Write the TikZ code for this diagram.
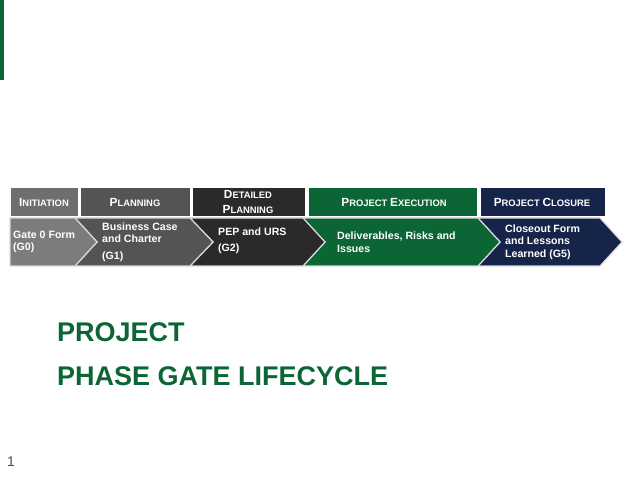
\documentclass[tikz,border=0pt]{standalone}
\usepackage{fontspec}
\setmainfont{Liberation Sans}
\definecolor{pgreen}{HTML}{0B6535}
\definecolor{pnavy}{HTML}{17244A}
\definecolor{gA}{HTML}{6E6E6E}
\definecolor{gB}{HTML}{545454}
\definecolor{gC}{HTML}{2A2A2A}
\definecolor{cA}{HTML}{7C7C7C}
\newcommand{\mysc}[2]{{\fontsize{11.8}{13}\selectfont #1}{\fontsize{9.4}{13}\selectfont #2}}
\tikzset{
 hdr/.style={fill=#1, draw=white, line width=0.8pt},
 chev/.style={fill=#1, draw=white!85!black, line width=1.2pt},
 htxt/.style={text=white, font=\bfseries, align=center, inner sep=0pt},
 ctxt/.style={text=white, font=\bfseries\fontsize{10.6}{12.5}\selectfont, align=left, anchor=west, inner sep=0pt}
}
\begin{document}
\begin{tikzpicture}[x=1pt,y=-1pt]
\useasboundingbox (0,0) rectangle (638,478);
\fill[pgreen] (0,0) rectangle (4,80);
% headers
\draw[hdr=gA] (10,187) rectangle (78,216);
\draw[hdr=gB] (80,187) rectangle (190,216);
\draw[hdr=gC] (192,187) rectangle (305,216);
\draw[hdr=pgreen] (308,187) rectangle (477,216);
\draw[hdr=pnavy] (480,187) rectangle (605,216);
\node[htxt] (h1) at (44,202) {\mysc{I}{NITIATION}};
\node[htxt] (h2) at (135,202) {\mysc{P}{LANNING}};
\node[htxt] (h3a) at (248,194) {\mysc{D}{ETAILED}};
\node[htxt] (h3b) at (248,209) {\mysc{P}{LANNING}};
\node[htxt] (h4) at (394,202) {\mysc{P}{ROJECT} \mysc{E}{XECUTION}};
\node[htxt] (h5) at (542,202) {\mysc{P}{ROJECT} \mysc{C}{LOSURE}};
% chevrons
\draw[chev=pnavy] (478,218) -- (600,218) -- (622,242) -- (600,266) -- (478,266) -- (500,242) -- cycle;
\draw[chev=pgreen] (303,218) -- (478,218) -- (500,242) -- (478,266) -- (303,266) -- (325,242) -- cycle;
\draw[chev=gC] (190,218) -- (303,218) -- (325,242) -- (303,266) -- (190,266) -- (213,242) -- cycle;
\draw[chev=gB] (75,218) -- (190,218) -- (213,242) -- (190,266) -- (75,266) -- (97,242) -- cycle;
\draw[chev=cA] (10,218) -- (75,218) -- (97,242) -- (75,266) -- (10,266) -- cycle;
\node[ctxt] (c1) at (13,242) {Gate 0 Form\\(G0)};
\node[ctxt] (c2) at (102,242) {Business Case\\and Charter\\[4pt](G1)};
\node[ctxt] (c3) at (218,241) {PEP and URS\\[4pt](G2)};
\node[ctxt] (c4) at (337,242) {Deliverables, Risks and\\Issues};
\node[ctxt] (c5) at (505,242) {Closeout Form\\and Lessons\\Learned (G5)};
% title
\node[anchor=west, inner sep=0pt, text=pgreen, font=\bfseries\fontsize{27}{30}\selectfont] (t1) at (57,332) {PROJECT};
\node[anchor=west, inner sep=0pt, text=pgreen, font=\bfseries\fontsize{27}{30}\selectfont] (t2) at (57,376) {PHASE GATE LIFECYCLE};
\node[anchor=west, inner sep=0pt, text=black!70, font=\fontsize{14}{16}\selectfont] (pn) at (7,462) {1};
\end{tikzpicture}
\end{document}
